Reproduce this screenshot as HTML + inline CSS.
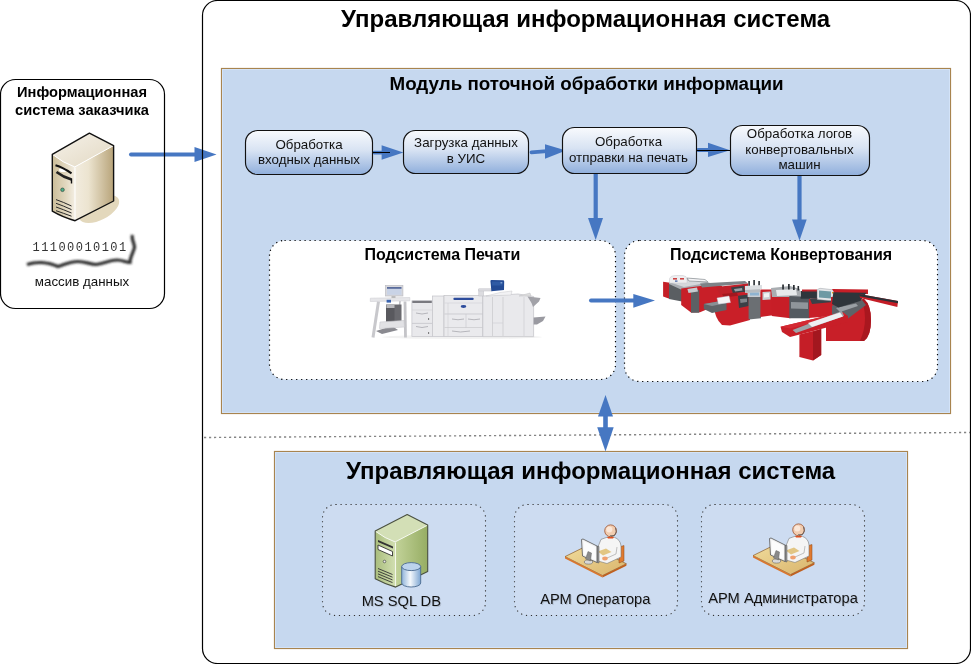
<!DOCTYPE html>
<html><head><meta charset="utf-8">
<style>
html,body{margin:0;padding:0;background:#fff;width:971px;height:664px;overflow:hidden}
svg{display:block;will-change:transform}
text{font-family:"Liberation Sans",sans-serif}
.b{font-weight:bold;fill:#000}
.r{fill:#111}
</style></head><body>
<svg width="971" height="664" viewBox="0 0 971 664">
<defs>
<linearGradient id="pg" x1="0" y1="0" x2="0" y2="1">
<stop offset="0" stop-color="#f8fafd"/><stop offset="0.45" stop-color="#d8e3f3"/><stop offset="1" stop-color="#90afdc"/>
</linearGradient>
<filter id="blur1" x="-20%" y="-50%" width="140%" height="200%"><feGaussianBlur stdDeviation="1.1"/></filter>
<filter id="tsh" x="-5%" y="-20%" width="110%" height="140%"><feGaussianBlur stdDeviation="0.6"/></filter>

<linearGradient id="srvSide" x1="0" y1="0" x2="1" y2="0">
<stop offset="0" stop-color="#f2ecdf"/><stop offset="0.35" stop-color="#ece4d0"/><stop offset="1" stop-color="#b8a47a"/>
</linearGradient>
<linearGradient id="srvFront" x1="0" y1="0" x2="1" y2="0">
<stop offset="0" stop-color="#cbbd98"/><stop offset="0.6" stop-color="#e2d8c0"/><stop offset="1" stop-color="#f4efe4"/>
</linearGradient>
<linearGradient id="srvTop" x1="0" y1="0" x2="1" y2="1">
<stop offset="0" stop-color="#f6f2ea"/><stop offset="1" stop-color="#e2d8c2"/>
</linearGradient>
<linearGradient id="sqlSide" x1="0" y1="0" x2="1" y2="0">
<stop offset="0" stop-color="#c3d39a"/><stop offset="1" stop-color="#96ad63"/>
</linearGradient>
<linearGradient id="sqlFront" x1="0" y1="0" x2="1" y2="0">
<stop offset="0" stop-color="#a9bd7c"/><stop offset="1" stop-color="#d2dfb2"/>
</linearGradient>
<linearGradient id="cyl" x1="0" y1="0" x2="1" y2="0">
<stop offset="0" stop-color="#8fb3d9"/><stop offset="0.45" stop-color="#f4f8fc"/><stop offset="1" stop-color="#7ea6d2"/>
</linearGradient>
<filter id="blur2" x="-20%" y="-50%" width="140%" height="200%"><feGaussianBlur stdDeviation="1.3"/></filter>
<linearGradient id="desk" x1="0" y1="0" x2="1" y2="1"><stop offset="0" stop-color="#f0dc9c"/><stop offset="1" stop-color="#d9b46c"/></linearGradient>
</defs>

<!-- outer box -->
<line x1="131" y1="154.5" x2="196" y2="154.5" stroke="#4677c2" stroke-width="4" stroke-linecap="round"/>
<polygon fill="#4677c2" points="194.5,147 216.5,154.5 194.5,162"/>
<rect x="202.5" y="0.5" width="768" height="663" rx="15" ry="15" fill="none" stroke="#000" stroke-width="1.2"/>
<!-- left box -->
<rect x="0.5" y="79.5" width="164" height="229" rx="15" ry="15" fill="none" stroke="#000" stroke-width="1.2"/>

<!-- arrow left box -> module (under borders) -->
<g id="arrows-under"></g>


<!-- server icon (left) -->
<g>
<ellipse cx="99" cy="209" rx="22" ry="11" fill="#e3d8bc" transform="rotate(-27 99 209)"/>
<path d="M52.3,154.3 Q63,163 74.8,166.9 L113.6,145.6 L89.4,133.2 Z" fill="url(#srvTop)"/>
<path d="M74.8,166.9 L113.6,145.6 L113.6,201 L75.1,220.7 Z" fill="url(#srvSide)"/>
<path d="M52.3,154.3 Q63,163 74.8,166.9 L75.1,220.7 Q63,217.5 52.3,211.2 Z" fill="url(#srvFront)"/>
<path d="M52.3,154.3 Q63,163 74.8,166.9 L113.6,145.6" fill="none" stroke="#fff" stroke-width="1"/>
<line x1="75" y1="167.5" x2="75" y2="220" stroke="#fff" stroke-width="1"/>
<path d="M52.3,154.3 L89.4,133.2 L113.6,145.6 L113.6,201 L75.1,220.7 Q63,217.5 52.3,211.2 Z" fill="none" stroke="#111" stroke-width="1.4" stroke-linejoin="round"/>
<ellipse cx="63" cy="170" rx="4" ry="2" fill="#fff"/>
<path d="M55.5,165.3 Q63,167.5 71.5,173.3" fill="none" stroke="#111" stroke-width="2.1"/>
<path d="M56.5,172 Q63,177 71.5,179.5" fill="none" stroke="#222" stroke-width="2.6"/>
<path d="M71.5,178.5 L71.5,183.5" stroke="#111" stroke-width="1.4"/>
<circle cx="62.5" cy="189.8" r="1.8" fill="#4fae88" stroke="#1f3a30" stroke-width="0.6"/>
<g stroke="#2a2a2a" stroke-width="1" fill="none">
<path d="M56,199.6 Q63,202 71.5,206"/>
<path d="M56,203.3 Q63,205.7 71.5,209.6"/>
<path d="M56,207 Q63,209.4 71.5,213"/>
<path d="M56,210.7 Q63,213.1 71.5,216.2"/>
</g>
</g>

<!-- data tape -->
<path d="M27,264.5 C36,261.5 48,262 58,266.5 C65,264.5 70,261.5 78,261.5 C86,261.5 90,264.5 96,264.5 C104,263.5 110,260 117,260 C123,260 126,262.5 130,262.5 C130,257 133.5,252 134.5,247.5 C134.5,243 131,239 132.5,235" fill="none" stroke="#2a2a2a" stroke-width="3.2" filter="url(#blur2)"/>
<text x="32.5" y="250.6" style="font-family:'Liberation Mono',monospace;letter-spacing:1.45px" font-size="12" fill="#333">11100010101</text>

<!-- dotted separator -->
<line x1="204" y1="437.5" x2="970" y2="432.5" stroke="#858585" stroke-width="1.4" stroke-dasharray="2.2 2.8"/>

<!-- module box -->
<rect x="221.5" y="68.5" width="729" height="345" fill="#c6d8ef" stroke="#a8844f" stroke-width="1.2"/>
<!-- bottom box -->
<rect x="274.5" y="451.5" width="633" height="197" fill="#c6d8ef" stroke="#a8844f" stroke-width="1.2"/>
<rect x="222.5" y="69.5" width="727" height="343" fill="none" stroke="#d3e3f8" stroke-width="1"/>
<rect x="275.5" y="452.5" width="631" height="195" fill="none" stroke="#d3e3f8" stroke-width="1"/>

<!-- titles -->
<text class="b" x="341" y="27" font-size="24">Управляющая информационная система</text>
<text class="b" x="389.5" y="89.7" font-size="18.8">Модуль поточной обработки информации</text>
<text class="b" x="346" y="478.7" font-size="24">Управляющая информационная система</text>
<text class="b" x="82" y="97" font-size="14.67" text-anchor="middle">Информационная</text>
<text class="b" x="82" y="114.6" font-size="14.67" text-anchor="middle">система заказчика</text>


<!-- arrows under process boxes -->
<g fill="#4677c2" stroke="none">
<line x1="374" y1="152.6" x2="384" y2="152.6" stroke="#4677c2" stroke-width="3.6" stroke-linecap="round"/>
<polygon points="381.6,145.2 403.4,152.5 381.6,159.8"/>
<line x1="373" y1="152.5" x2="390" y2="152.5" stroke="#000" stroke-width="1"/>
<line x1="531.5" y1="152.3" x2="547" y2="151.2" stroke="#4677c2" stroke-width="3.8" stroke-linecap="round"/>
<polygon points="545,144.3 566,150.5 545,158.8"/>
<line x1="698" y1="150" x2="710" y2="150" stroke="#4677c2" stroke-width="3.8" stroke-linecap="round"/>
<polygon points="708,142.7 730,150.2 708,157.1"/>
<line x1="697" y1="150.5" x2="730" y2="150.5" stroke="#000" stroke-width="1"/>
<line x1="595.7" y1="172" x2="595.7" y2="220" stroke="#4677c2" stroke-width="4.2"/>
<polygon points="588,218 603,218 595.7,240"/>
<line x1="799.5" y1="174" x2="799.5" y2="221" stroke="#4677c2" stroke-width="4.2"/>
<polygon points="792,219.4 806.7,219.4 799.5,240.5"/>
</g>

<!-- process boxes -->
<g stroke="#111" stroke-width="1.15" fill="url(#pg)">
<rect x="245.5" y="130.5" width="127" height="44" rx="12"/>
<rect x="403.5" y="130.5" width="125" height="43" rx="12"/>
<rect x="562.5" y="127.5" width="134" height="46" rx="12"/>
<rect x="730.5" y="125.5" width="139" height="50" rx="12"/>
</g>
<g class="r" font-size="13.33" text-anchor="middle">
<text x="309" y="148.5">Обработка</text>
<text x="309" y="164.2">входных данных</text>
<text x="466" y="147.4">Загрузка данных</text>
<text x="466" y="163">в УИС</text>
<text x="628.5" y="146.4">Обработка</text>
<text x="628.5" y="161.5">отправки на печать</text>
<text x="799.5" y="137.7">Обработка логов</text>
<text x="799.5" y="153.7">конвертовальных</text>
<text x="799.5" y="169.4">машин</text>
</g>

<!-- subsystem boxes -->
<g fill="#fff" stroke="#000" stroke-width="1.2" stroke-dasharray="1.2 3.8">
<rect x="269.5" y="240.5" width="346" height="139" rx="15"/>
<rect x="624.5" y="240.5" width="313" height="141" rx="15"/>
</g>
<text class="b" x="364.4" y="259.5" font-size="16">Подсистема Печати</text>
<!-- printer photo approximation -->
<g id="printer">
<ellipse cx="462" cy="337" rx="80" ry="2" fill="#f2f2f2"/>
<!-- desk -->
<path d="M378.5,301.5 L373,337.5" stroke="#c8c8cc" stroke-width="3"/>
<path d="M405,301.5 L405.5,337.5" stroke="#c4c4c8" stroke-width="2.8"/>
<path d="M400,301 L398,322" stroke="#bdbdc2" stroke-width="1.6"/>
<path d="M376,331 L392,326 L398,330 L382,334 Z" fill="#8a8a90"/>
<rect x="386" y="304.5" width="15.5" height="19.5" fill="#6a6a6f"/>
<rect x="386.5" y="305" width="8" height="3" fill="#b9b9bd"/>
<rect x="386" y="308" width="8.5" height="16" fill="#59595e"/>
<path d="M380,322 L404,320.5 L404.5,327 L379.5,328.5 Z" fill="#e2e2e5" stroke="#c8c8cc" stroke-width="0.6"/>
<path d="M370.3,298.2 L409.8,297.5 L409.8,300.8 L370.3,301.5 Z" fill="#e6e6e9" stroke="#cfcfd3" stroke-width="0.6"/>
<rect x="386.6" y="299.8" width="4.4" height="2.8" fill="#3a64b0"/>
<rect x="391.5" y="296" width="4" height="2" fill="#bbb"/>
<rect x="385.5" y="285.5" width="17.4" height="10.5" fill="#d8d8dc" stroke="#bdbdc2" stroke-width="0.7"/>
<rect x="387" y="287" width="14.5" height="7.8" fill="#c9d3e6"/>
<rect x="387" y="287" width="14.5" height="1.8" fill="#5a6c9c"/>
<!-- HCF unit -->
<rect x="411.9" y="300.8" width="20.5" height="35.8" fill="#e9e9ec" stroke="#c4c4c9" stroke-width="0.7"/>
<rect x="412.3" y="300.8" width="19.5" height="2.2" fill="#7a7a80"/>
<line x1="412" y1="323.4" x2="432.4" y2="323.4" stroke="#c4c4c9" stroke-width="0.8"/>
<line x1="412" y1="310" x2="432.4" y2="310" stroke="#d0d0d4" stroke-width="0.6"/>
<path d="M416,313 Q422,315 428,313" stroke="#a8a8ae" stroke-width="0.8" fill="none"/>
<path d="M416,326.5 Q422,328.5 428,326.5" stroke="#a8a8ae" stroke-width="0.8" fill="none"/>
<rect x="428.2" y="318" width="0.9" height="2" fill="#666"/>
<rect x="428.2" y="332" width="0.9" height="2" fill="#666"/>
<rect x="432.4" y="296" width="11.6" height="40.6" fill="#ececee" stroke="#c4c4c9" stroke-width="0.7"/>
<!-- main unit -->
<rect x="444" y="295.5" width="38.8" height="41" fill="#eaeaed" stroke="#c2c2c7" stroke-width="0.7"/>
<rect x="453.4" y="297.7" width="20.3" height="2.3" rx="1" fill="#2d4c9c"/>
<ellipse cx="463.5" cy="306.5" rx="2.8" ry="1.4" fill="#2d4c9c"/>
<line x1="444.5" y1="314" x2="482.8" y2="314" stroke="#c2c2c7" stroke-width="0.7"/>
<line x1="444.5" y1="303" x2="482.8" y2="303" stroke="#d2d2d6" stroke-width="0.6"/>
<line x1="448" y1="303" x2="448" y2="336" stroke="#d0d0d4" stroke-width="0.6"/>
<line x1="444.5" y1="327.5" x2="482.8" y2="327.5" stroke="#c8c8cc" stroke-width="0.7"/>
<line x1="466" y1="314" x2="466" y2="327.5" stroke="#c8c8cc" stroke-width="0.6"/>
<path d="M452,319 Q458,320.5 464,319" stroke="#a8a8ae" stroke-width="0.8" fill="none"/>
<path d="M468,319 Q474,320.5 480,319" stroke="#a8a8ae" stroke-width="0.8" fill="none"/>
<path d="M452,331 Q460,333 470,331" stroke="#a8a8ae" stroke-width="0.8" fill="none"/>
<!-- control panel arm -->
<rect x="478.8" y="289.5" width="4.8" height="6.5" fill="#dcdce0" stroke="#c0c0c5" stroke-width="0.5"/>
<rect x="478.8" y="288.8" width="13" height="2.2" fill="#dcdce0" stroke="#c0c0c5" stroke-width="0.5"/>
<path d="M490.4,281 Q490.4,280 491.5,280 L503,280.3 Q504.2,280.3 504.2,281.5 L504,290 L491.4,291.2 Z" fill="#234a94"/>
<path d="M492,281.5 L502.5,281.8 L502.5,285.5 L492,285.5 Z" fill="#2f5aa4"/>
<rect x="500.5" y="282" width="1.8" height="1.5" fill="#7fa0d0"/>
<!-- finisher -->
<path d="M482.8,296 L518,294 L533.6,296.5 L533.6,336.6 L482.8,336.6 Z" fill="#e9e9ec" stroke="#c2c2c7" stroke-width="0.7"/>
<path d="M486,296 L500,292.5 L512,291 L511,295 Z" fill="#f2f2f4" stroke="#c8c8cc" stroke-width="0.5"/>
<path d="M519,296 L530,293 L531,296 Z" fill="#ddd" stroke="#c0c0c5" stroke-width="0.5"/>
<line x1="492.5" y1="297" x2="492.5" y2="336" stroke="#c8c8cc" stroke-width="0.7"/>
<line x1="503" y1="297" x2="503" y2="336" stroke="#c8c8cc" stroke-width="0.7"/>
<line x1="524" y1="297" x2="524" y2="336" stroke="#cfcfd3" stroke-width="0.7"/>
<line x1="492.5" y1="323" x2="503" y2="323" stroke="#cfcfd3" stroke-width="0.6"/>
<path d="M527.5,296.5 L540.5,298 L539,301.5 L533,307 L531.5,303 Z" fill="#a2a2a8"/>
<path d="M533.6,317.5 L545.5,316.5 L543,321 L537,324.5 L533.6,324.5 Z" fill="#9a9aa1"/>
</g>

<text class="b" x="670" y="259.5" font-size="16">Подсистема Конвертования</text>
<!-- converter photo approximation -->
<g id="conv">
<!-- module A -->
<path d="M663.1,281.8 L670,282.8 L670,299 L663.1,296.5 Z" fill="#c41f27"/>
<path d="M669,283.3 L682,285 L682,301.4 L669,299 Z" fill="#5a5e62"/>
<path d="M669,282.5 L686,278 L700,279 L710,283 L710,287.5 L682,290 L669,284 Z" fill="#a9adb2"/>
<path d="M672,283 L690,280 L706,283 L684,287 Z" fill="#d5d8db"/>
<path d="M669.5,283 L669.5,278.5 Q670.5,275.5 675,275.5 L683,275.5 Q687,276 687,279 L687,283 Z" fill="#eeeef0" stroke="#c9c9cd" stroke-width="0.5"/>
<rect x="673" y="278" width="4" height="1.6" fill="#c44"/><rect x="680" y="278" width="4" height="1.6" fill="#c44"/>
<rect x="675" y="280.5" width="2.5" height="1.2" fill="#3a5aa0"/>
<path d="M687,278 L705,279.5 L708,282 L689,281 Z" fill="#f4f4f6" stroke="#8a8f94" stroke-width="0.7"/>
<!-- module B -->
<path d="M681.2,288.5 L716,284 L722,286 L722,303 L700,312.2 L691,312.5 L681.2,305 Z" fill="#c81f28"/>
<path d="M691,290.5 L699.2,290 L699.2,312.7 L691,312.7 Z" fill="#5c6064"/>
<path d="M687.4,289 L697,287.5 L698,291.5 L688.5,293 Z" fill="#c5cbd0"/>
<path d="M700,283.5 L745,281 L748,283.5 L702,287.5 Z" fill="#7d8287"/>
<path d="M716,287 L748,283.5 L748,292 L720,295 Z" fill="#c0202a"/>
<path d="M731,287.5 L744,285.8 L745,292 L733,293.5 Z" fill="#3a4046"/>
<path d="M734,289 L742,288 L742.5,290.5 L735,291.5 Z" fill="#9aa0a6"/>
<!-- module C -->
<path d="M722,294 L745,292 L750,294 L750,320 L730,325.5 L722,325 Q714.6,318 714.6,308 Q715,300 722,294 Z" fill="#c91f28"/>
<path d="M738,295.7 L748.6,294.5 L748.6,306 L739,308 Z" fill="#3a4046"/>
<path d="M740,299 L747,298.5 L747,302 L740.5,303 Z" fill="#80858a"/>
<path d="M722,294 L737,292.5 L738,295.7 L724,297.5 Z" fill="#a3171f"/>
<!-- tray -->
<path d="M703.8,304 L718,301.5 L726.5,303 L726.5,310 L712,313 L703.8,309 Z" fill="#5f6468"/>
<path d="M703.8,304 L718,301.5 L726.5,303 L712,306 Z" fill="#8b9095"/>
<path d="M717,298 L729,296 L730.5,302.5 L718.5,304 Z" fill="#f4f4f6" stroke="#ccd" stroke-width="0.4"/>

<path d="M748.6,293 L761,293 L761,318.3 L748.6,319.4 Z" fill="#6b6f73"/>
<path d="M747.6,291.5 L762.5,291.5 L762.5,297 L747.6,297 Z" fill="#c9cdd2"/>
<rect x="750" y="292.5" width="9" height="3" fill="#8fb3d0"/>
<path d="M745,286 L760,286 L760,292 L745,293 Z" fill="#b8bcc0"/>
<g fill="#2a2e33"><rect x="748.3" y="281" width="1.6" height="5"/><rect x="753.3" y="280" width="1.6" height="5.5"/><rect x="758.3" y="281" width="1.6" height="5"/></g>
<path d="M745,286 L762,285 L762,289 L745,290 Z" fill="#dcdfe2"/>
<!-- module D/E/F/G -->
<path d="M760.4,289.4 L772.8,289.4 L772.8,315.2 L760.4,317 Z" fill="#c81f28"/>
<path d="M762.5,292 L770.5,291.5 L770.5,299.5 L762.5,300 Z" fill="#c9cdd1"/>
<path d="M764,293.5 L769,293 L769,297 L764,297.5 Z" fill="#f2f3f4"/>
<path d="M771.8,296 L790.3,296 L790.3,318.3 L771.8,316 Z" fill="#c71e27"/>
<path d="M771,288 L790,286 L800,289 L800,297 L772,297 Z" fill="#a9adb1"/>
<path d="M776,290 L796,289 L797,295 L777,296 Z" fill="#e7e9eb"/>
<g fill="#2a2e33"><rect x="782.2" y="284.5" width="1.7" height="5"/><rect x="788" y="284" width="1.7" height="5.5"/><rect x="793" y="285" width="1.7" height="5"/><rect x="797.5" y="286" width="1.6" height="4.5"/></g>
<path d="M789.3,296 L809.9,297 L809.9,318.3 L789.3,318.3 Z" fill="#545a60"/>
<path d="M791,302 L808,302.5 L808,309 L791,308.5 Z" fill="#8f959a"/>
<path d="M808.9,298.7 L832,297 L832,316 L808.9,318 Z" fill="#c81f28"/>
<path d="M800.6,291 L817.1,291 L817.1,298.7 L800.6,298.7 Z" fill="#2f363c"/>
<path d="M802,289.5 L817,289.5 L817,291.5 L802,291.5 Z" fill="#c0222a"/>
<path d="M810,299 L832,297.5 L833,302 L812,304 Z" fill="#3a4148"/>
<!-- screen -->
<path d="M817.3,289.5 L820,288.3 L835.2,290 L835.2,301.1 L817.3,299.5 Z" fill="#e4e6e8" stroke="#9aa0a6" stroke-width="0.5"/>
<path d="M819,290.5 L831,291.5 L831,298.5 L819,297.5 Z" fill="#6e9aa4"/>
<rect x="832" y="292" width="1.8" height="1.5" fill="#e8a020"/>
<!-- right section -->
<path d="M832,289 L868,289.5 L868,294 L835,294 Z" fill="#c61e27"/>
<path d="M826,318 L842,303 L864,299 Q871,305 871,320 Q871,336 864,341 L826,341 Z" fill="#c81f28"/>
<path d="M864,299 Q871,305 871,320 Q871,336 864,341 L860,341 Q865,330 865,318 Q865,306 860,300 Z" fill="#a9171f"/>
<path d="M831,297 L842,296 L842,318 L831,318 Z" fill="#c81f28"/>
<path d="M832,305.6 L862,300 L866,305 L848,318.4 L832,318.4 Z" fill="#5e6368"/>
<path d="M836,308 L856,303.5 L858,306 L840,312 Z" fill="#9aa0a5"/>
<path d="M833.3,292.2 L866.6,292.8 L860.2,301.1 L838.4,307.5 L832,304 Z" fill="#2e353b"/>
<path d="M858.9,294.1 L898,301.1 L897.3,306.9 L860.2,297.9 Z" fill="#c41d26"/>
<path d="M858.9,294.1 L898,301.1 L898,303.3 L859.5,296.3 Z" fill="#2a3036"/>
<!-- table -->
<path d="M780.5,326.8 L842.3,312 L848,316 L848,322 L790,337 L782,332 Z" fill="#c81f28"/>
<path d="M780.5,326.8 L842.3,312 L846,314.5 L790,328.5 Z" fill="#d42a33"/>
<path d="M792.6,330 L841.8,311 L844,316 L796,333 Z" fill="#9da3a8"/>
<path d="M808,323 L840,312.5 L843,316.5 L812,327 Z" fill="#eef0f3"/>
<path d="M799.4,334.5 L821.2,329 L821.2,355 L813,360.4 L799.4,357 Z" fill="#c51e27"/>
<path d="M813,332 L821.2,329 L821.2,355 L813,360.4 Z" fill="#a3171f"/>
</g>


<!-- arrow print -> konv -->
<line x1="591" y1="300.6" x2="636" y2="300.6" stroke="#4677c2" stroke-width="4" stroke-linecap="round"/>
<polygon fill="#4677c2" points="633.3,293.9 655,300.6 633.3,307.8"/>

<!-- double arrow -->
<g fill="#4677c2">
<rect x="603.2" y="414" width="4.6" height="16"/>
<polygon points="598,416.6 613,416.6 605.5,395"/>
<polygon points="597.2,427.2 613.7,427.2 605.5,451.4"/>
</g>

<!-- bottom dotted boxes -->
<g fill="#cddcf1" stroke="#333" stroke-width="1.1" stroke-dasharray="1.2 3.8">
<rect x="322.5" y="504.5" width="163" height="111" rx="13"/>
<rect x="514.5" y="504.5" width="163" height="111" rx="13"/>
<rect x="701.5" y="504.5" width="163" height="111" rx="13"/>
</g>
<g font-size="14.67" text-anchor="middle" fill="#a9b5c6" opacity="0.7">
<text x="402.3" y="606.5">MS SQL DB</text>
<text x="596.3" y="604.8">АРМ Оператора</text>
<text x="784" y="603.8">АРМ Администратора</text>
</g>
<g class="r" font-size="14.67" text-anchor="middle">
<text x="401.3" y="605.5">MS SQL DB</text>
<text x="595.3" y="603.8">АРМ Оператора</text>
<text x="783" y="602.8">АРМ Администратора</text>
<text x="82" y="285.6" font-size="13.33">массив данных</text>
</g>


<!-- MS SQL server icon -->
<g id="sql">
<path d="M375.2,531.1 Q385,538.5 395.1,541.9 L427.7,525.1 L407.2,514.6 Z" fill="#d3dfb6"/>
<path d="M395.1,541.9 L427.7,525.1 L427.7,571.4 L395.7,587.1 Z" fill="url(#sqlSide)"/>
<path d="M375.2,531.1 Q385,538.5 395.1,541.9 L395.7,587.1 Q385,584 375.2,578.7 Z" fill="url(#sqlFront)"/>
<path d="M375.2,531.1 Q385,538.5 395.1,541.9 L427.7,525.1" fill="none" stroke="#f6f9ee" stroke-width="1"/>
<line x1="395.5" y1="542.5" x2="395.6" y2="586.5" stroke="#f6f9ee" stroke-width="1"/>
<path d="M375.2,531.1 L407.2,514.6 L427.7,525.1 L427.7,571.4 L395.7,587.1 Q385,584 375.2,578.7 Z" fill="none" stroke="#4a5040" stroke-width="1.1" stroke-linejoin="round"/>
<path d="M378,540 L393,546.5 L393,548.5 L378,542 Z" fill="#333"/>
<path d="M378,545 L392.5,551.5 L392.5,556 L378,549.5 Z" fill="#fff" stroke="#333" stroke-width="0.9"/>
<circle cx="384.5" cy="561.5" r="1.3" fill="#eee" stroke="#333" stroke-width="0.6"/>
<g stroke="#333" stroke-width="0.9">
<line x1="378" y1="568.5" x2="392.5" y2="574.5"/>
<line x1="378" y1="571.2" x2="392.5" y2="577.2"/>
<line x1="378" y1="573.9" x2="392.5" y2="579.9"/>
<line x1="378" y1="576.6" x2="392.5" y2="582.6"/>
</g>
<path d="M401.7,566.6 L401.7,583 A9.5,4 0 0 0 420.7,583 L420.7,566.6 Z" fill="url(#cyl)" stroke="#4a6a90" stroke-width="0.9"/>
<ellipse cx="411.2" cy="566.6" rx="9.5" ry="4" fill="#bcd3ec" stroke="#4a6a90" stroke-width="0.9"/>
</g>

<g transform="translate(0,0)">
<!-- desk -->
<path d="M565,556.6 L588.9,544.8 L626.4,563.8 L602.5,575.6 Z" fill="url(#desk)" stroke="#8a5a2a" stroke-width="0.7"/>
<path d="M565,556.6 L602.5,575.6 L602.5,577.6 L565,558.6 Z" fill="#d9772e"/>
<path d="M602.5,575.6 L626.4,563.8 L626.4,565.8 L602.5,577.6 Z" fill="#c0601e"/>
<!-- chair -->
<path d="M619,547 L624,545.5 L624,561 L619,563 Z" fill="#e07a30" stroke="#8a4a1a" stroke-width="0.5"/>
<!-- body -->
<path d="M601,539.4 Q607,536 614.2,537.2 Q620.5,539.5 621,546 L621,557 L607,563.5 L598,561 L597.9,547.1 Z" fill="#f5f5f5" stroke="#7a7a7a" stroke-width="0.6"/>
<path d="M597.8,551.5 L606,548.5 L611.5,552 L603,555.5 Z" fill="#e2c684"/>
<path d="M617,547 L616,554 L606,558.5" fill="none" stroke="#9a9a9a" stroke-width="0.6"/>
<ellipse cx="605" cy="558.5" rx="2.8" ry="1.9" fill="#f0a070"/>
<!-- head -->
<circle cx="610.6" cy="530.8" r="5.9" fill="#f2cdb0" stroke="#a0502a" stroke-width="0.8"/>
<circle cx="609.3" cy="529.5" r="3" fill="#fbe7d8"/>
<path d="M607,537 L614,537 L613,538.5 L608,538.5 Z" fill="#e05020"/>
<path d="M615.5,528 Q617.5,532 614.5,535.5 L610,535.8" fill="none" stroke="#555" stroke-width="0.8"/>
<!-- monitor -->
<ellipse cx="588.5" cy="562" rx="4.2" ry="2.1" fill="#d8d8d8" stroke="#666" stroke-width="0.6"/>
<path d="M597,546 L599,546.5 L599,563 L597,562.5 Z" fill="#9a9a9a" stroke="#555" stroke-width="0.5"/>
<path d="M581.5,539.5 L583,539 L597,546 L597,562.5 L582.5,556 Z" fill="#f0f0f0" stroke="#555" stroke-width="0.8"/>
<path d="M583.5,541 L595.8,547.2 L595.8,560.5 L583.5,554.5 Z" fill="#fcfcfc"/>
<path d="M585.5,559 L588,551.5 L591.5,553 L590.5,561 Z" fill="#8a8a8a" stroke="#555" stroke-width="0.4"/>
</g>
<g transform="translate(188,-1)">
<!-- desk -->
<path d="M565,556.6 L588.9,544.8 L626.4,563.8 L602.5,575.6 Z" fill="url(#desk)" stroke="#8a5a2a" stroke-width="0.7"/>
<path d="M565,556.6 L602.5,575.6 L602.5,577.6 L565,558.6 Z" fill="#d9772e"/>
<path d="M602.5,575.6 L626.4,563.8 L626.4,565.8 L602.5,577.6 Z" fill="#c0601e"/>
<!-- chair -->
<path d="M619,547 L624,545.5 L624,561 L619,563 Z" fill="#e07a30" stroke="#8a4a1a" stroke-width="0.5"/>
<!-- body -->
<path d="M601,539.4 Q607,536 614.2,537.2 Q620.5,539.5 621,546 L621,557 L607,563.5 L598,561 L597.9,547.1 Z" fill="#f5f5f5" stroke="#7a7a7a" stroke-width="0.6"/>
<path d="M597.8,551.5 L606,548.5 L611.5,552 L603,555.5 Z" fill="#e2c684"/>
<path d="M617,547 L616,554 L606,558.5" fill="none" stroke="#9a9a9a" stroke-width="0.6"/>
<ellipse cx="605" cy="558.5" rx="2.8" ry="1.9" fill="#f0a070"/>
<!-- head -->
<circle cx="610.6" cy="530.8" r="5.9" fill="#f2cdb0" stroke="#a0502a" stroke-width="0.8"/>
<circle cx="609.3" cy="529.5" r="3" fill="#fbe7d8"/>
<path d="M607,537 L614,537 L613,538.5 L608,538.5 Z" fill="#e05020"/>
<path d="M615.5,528 Q617.5,532 614.5,535.5 L610,535.8" fill="none" stroke="#555" stroke-width="0.8"/>
<!-- monitor -->
<ellipse cx="588.5" cy="562" rx="4.2" ry="2.1" fill="#d8d8d8" stroke="#666" stroke-width="0.6"/>
<path d="M597,546 L599,546.5 L599,563 L597,562.5 Z" fill="#9a9a9a" stroke="#555" stroke-width="0.5"/>
<path d="M581.5,539.5 L583,539 L597,546 L597,562.5 L582.5,556 Z" fill="#f0f0f0" stroke="#555" stroke-width="0.8"/>
<path d="M583.5,541 L595.8,547.2 L595.8,560.5 L583.5,554.5 Z" fill="#fcfcfc"/>
<path d="M585.5,559 L588,551.5 L591.5,553 L590.5,561 Z" fill="#8a8a8a" stroke="#555" stroke-width="0.4"/>
</g>
</svg>
</body></html>
